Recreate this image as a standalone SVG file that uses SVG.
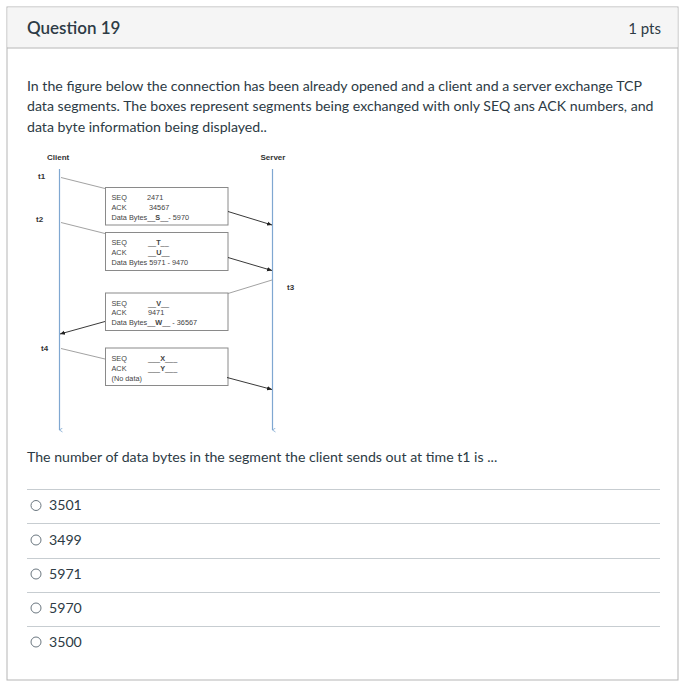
<svg xmlns="http://www.w3.org/2000/svg" width="694" height="690" viewBox="0 0 694 690">
<style>
.q{font-family:Lato,"Open Sans",sans-serif;fill:#2d3b45}
.p{font-size:14.15px}
.d{font-family:"Liberation Sans",Arial,sans-serif;font-size:7.3px;fill:#444}
.b{font-family:"Liberation Sans",Arial,sans-serif;font-size:8px;font-weight:bold;fill:#333}
.box{fill:#fff;stroke:#8a8a8a;stroke-width:1}
.life{stroke:#7fa7d1;stroke-width:1.2}
.thin{stroke:#8a8a8a;stroke-width:0.8;fill:none}
.arr{stroke:#222;stroke-width:0.9;fill:none;marker-end:url(#ah)}
.sep{stroke:#c7cdd1;stroke-width:1}
.rad{fill:#fff;stroke:#6b7780;stroke-width:1}
</style>
<defs>
<marker id="ah" markerWidth="6" markerHeight="6" refX="5" refY="3" orient="auto" markerUnits="userSpaceOnUse">
<path d="M0,0.8 L5,3 L0,5.2 Z" fill="#222"/>
</marker>
<marker id="lh" markerWidth="5" markerHeight="5" refX="2.5" refY="4" orient="auto" markerUnits="userSpaceOnUse">
<path d="M0.5,1 L2.5,4 L4.5,1" fill="none" stroke="#7fa7d1" stroke-width="0.8"/>
</marker>
</defs>
<rect x="0" y="0" width="694" height="690" fill="#fff"/>
<rect x="7" y="7" width="671" height="673" fill="#fff" stroke="#b5b5b5" stroke-width="1"/>
<rect x="7.5" y="7.5" width="670" height="40" fill="#f5f5f5"/>
<line x1="7" y1="48" x2="678" y2="48" stroke="#b5b5b5" stroke-width="1"/>
<text class="q" x="27" y="34" font-size="17" style="font-weight:600">Question 19</text>
<text class="q" x="661" y="34" font-size="15" text-anchor="end">1 pts</text>
<text class="q p" x="27" y="91">In the figure below the connection has been already opened and a client and a server exchange TCP</text>
<text class="q p" x="27" y="111">data segments. The boxes represent segments being exchanged with only SEQ ans ACK numbers, and</text>
<text class="q p" x="27" y="132">data byte information being displayed..</text>

<g id="client">
<text class="b" x="47" y="160">Client</text>
<line class="life" x1="59.5" y1="169" x2="59.5" y2="430" marker-end="url(#lh)"/>
</g>
<g id="server">
<text class="b" x="260.5" y="160">Server</text>
<line class="life" x1="272.5" y1="169" x2="272.5" y2="430" marker-end="url(#lh)"/>
</g>
<g id="times">
<text class="b" x="38" y="179">t1</text>
<text class="b" x="36" y="222">t2</text>
<text class="b" x="287" y="290">t3</text>
<text class="b" x="41" y="351">t4</text>
</g>

<g id="seg1">
<rect class="box" x="105.5" y="187.5" width="122.5" height="37.5"/>
<text class="d" x="111.5" y="199.5">SEQ</text><text class="d" x="147" y="199.5">2471</text>
<text class="d" x="111.5" y="209.5">ACK</text><text class="d" x="149" y="209.5">34567</text>
<text class="d" x="111.5" y="219.5">Data Bytes__<tspan font-weight="bold">S</tspan>__- 5970</text>
</g>
<g id="seg2">
<rect class="box" x="105.5" y="232.5" width="122.5" height="38"/>
<text class="d" x="111.5" y="245">SEQ</text><text class="d" x="148" y="245">__<tspan font-weight="bold">T</tspan>__</text>
<text class="d" x="111.5" y="255">ACK</text><text class="d" x="148" y="255">__<tspan font-weight="bold">U</tspan>__</text>
<text class="d" x="111.5" y="265">Data Bytes 5971  -  9470</text>
</g>
<g id="seg3">
<rect class="box" x="105.5" y="293" width="122.5" height="37.5"/>
<text class="d" x="111.5" y="305.5">SEQ</text><text class="d" x="148" y="305.5">__<tspan font-weight="bold">V</tspan>__</text>
<text class="d" x="111.5" y="315">ACK</text><text class="d" x="148" y="315">9471</text>
<text class="d" x="111.5" y="325">Data Bytes__<tspan font-weight="bold">W</tspan>__ -  36567</text>
</g>
<g id="seg4">
<rect class="box" x="105.5" y="348" width="122.5" height="37.5"/>
<text class="d" x="111.5" y="360.5">SEQ</text><text class="d" x="148" y="360.5">___<tspan font-weight="bold">X</tspan>___</text>
<text class="d" x="111.5" y="371">ACK</text><text class="d" x="148" y="371">___<tspan font-weight="bold">Y</tspan>___</text>
<text class="d" x="111.5" y="381">(No data)</text>
</g>

<g id="connectors">
<line class="thin" x1="61" y1="177.5" x2="105" y2="188.5"/>
<line class="arr" x1="228" y1="211.5" x2="272" y2="225"/>
<line class="thin" x1="61" y1="222.5" x2="105" y2="233.5"/>
<line class="arr" x1="228" y1="257.5" x2="272" y2="270.5"/>
<line class="thin" x1="272" y1="280" x2="228" y2="293.5"/>
<line class="arr" x1="105" y1="321.5" x2="60" y2="334"/>
<line class="thin" x1="61" y1="348.5" x2="105" y2="359"/>
<line class="arr" x1="227" y1="377.5" x2="272" y2="389.5"/>
</g>

<text class="q p" x="27" y="462">The number of data bytes in the segment the client sends out at time t1 is ...</text>
<line class="sep" x1="27" y1="489.5" x2="660" y2="489.5"/>
<line class="sep" x1="27" y1="523.5" x2="660" y2="523.5"/>
<line class="sep" x1="27" y1="558.5" x2="660" y2="558.5"/>
<line class="sep" x1="27" y1="592.5" x2="660" y2="592.5"/>
<line class="sep" x1="27" y1="626.5" x2="660" y2="626.5"/>
<g id="opt1"><circle class="rad" cx="36" cy="505.5" r="5"/><text class="q p" x="49" y="510">3501</text></g>
<g id="opt2"><circle class="rad" cx="36" cy="540" r="5"/><text class="q p" x="49" y="544.5">3499</text></g>
<g id="opt3"><circle class="rad" cx="36" cy="574" r="5"/><text class="q p" x="49" y="578.5">5971</text></g>
<g id="opt4"><circle class="rad" cx="36" cy="608" r="5"/><text class="q p" x="49" y="612.5">5970</text></g>
<g id="opt5"><circle class="rad" cx="36" cy="642" r="5"/><text class="q p" x="49" y="646.5">3500</text></g>
</svg>
